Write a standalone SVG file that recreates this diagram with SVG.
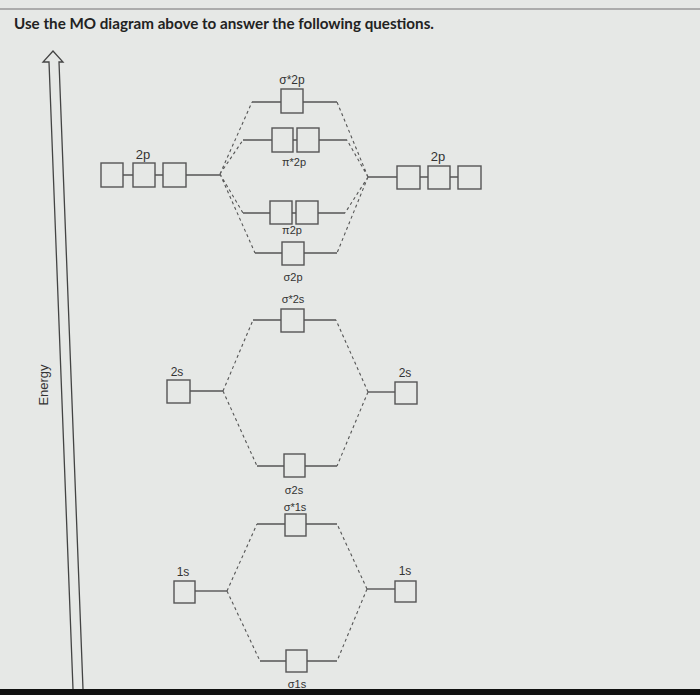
<svg xmlns="http://www.w3.org/2000/svg" width="700" height="695" viewBox="0 0 700 695">
<style>
.t{font-family:"Liberation Sans",Arial,sans-serif;fill:#333;}
.lbl{font-size:12px;text-anchor:middle;}
.box{fill:#e6e8e6;stroke:#555;stroke-width:1.4;}
.ln{stroke:#555;stroke-width:1.4;}
.d{stroke:#555;stroke-width:1.1;stroke-dasharray:3,3;fill:none;}
</style>
<rect width="700" height="695" fill="#e6e8e6"/>
<line x1="0" y1="9" x2="700" y2="9" stroke="#999" stroke-width="1.5"/>
<text x="14" y="29" class="t" style="font-family:Lato,'Liberation Sans',sans-serif;font-size:15.2px;font-weight:bold;fill:#222">Use the MO diagram above to answer the following questions.</text>
<g id="energy-axis" fill="none" stroke="#444" stroke-width="1.3">
<polyline points="73,689 49,62 43,62 53,51 63,62 59,62 83,689"/>
</g>
<text class="t" transform="translate(48,385) rotate(-90)" style="font-size:13px;text-anchor:middle">Energy</text>
<g id="connectors">
<path class="d" d="M220,174 L252,102 M220,174 L243,140 M220,174 L243,213 M220,174 L255,253"/>
<path class="d" d="M368,177 L337,102 M368,177 L347,140 M368,177 L345,213 M368,177 L337,253"/>
<path class="d" d="M223,391 L253,320 M223,391 L257,466 M368,392 L336,320 M368,392 L337,466"/>
<path class="d" d="M227,591 L257,524 M227,591 L260,661 M367,589 L337,524 M367,589 L337,661"/>
</g>
<g id="left-2p"><line class="ln" x1="123" y1="175" x2="220" y2="175"/><rect class="box" x="101" y="163" width="22" height="24"/><rect class="box" x="133" y="163" width="22" height="24"/><rect class="box" x="163" y="163" width="23" height="24"/><text class="t lbl" x="143" y="159" style="font-size:13px">2p</text></g>
<g id="right-2p"><line class="ln" x1="368" y1="177" x2="458" y2="177"/><rect class="box" x="397" y="166" width="23" height="23"/><rect class="box" x="428" y="166" width="22" height="23"/><rect class="box" x="458" y="166" width="23" height="23"/><text class="t lbl" x="438" y="161" style="font-size:13px">2p</text></g>
<g id="sigma-star-2p"><line class="ln" x1="252" y1="102" x2="337" y2="102"/><rect class="box" x="281" y="89" width="22" height="24"/><text class="t lbl" x="292" y="84">σ*2p</text></g>
<g id="pi-star-2p"><line class="ln" x1="243" y1="140" x2="347" y2="140"/><rect class="box" x="272" y="128" width="21" height="24"/><rect class="box" x="297" y="128" width="22" height="24"/><text class="t lbl" x="294" y="166" style="font-size:11px">π*2p</text></g>
<g id="pi-2p"><line class="ln" x1="243" y1="213" x2="345" y2="213"/><rect class="box" x="270" y="201" width="22" height="23"/><rect class="box" x="296" y="201" width="22" height="23"/><text class="t lbl" x="292" y="234" style="font-size:11px">π2p</text></g>
<g id="sigma-2p"><line class="ln" x1="255" y1="253" x2="337" y2="253"/><rect class="box" x="282" y="242" width="22" height="23"/><text class="t lbl" x="293" y="281" style="font-size:11px">σ2p</text></g>
<g id="sigma-star-2s"><line class="ln" x1="253" y1="320" x2="336" y2="320"/><rect class="box" x="281" y="309" width="23" height="23"/><text class="t lbl" x="293" y="303" style="font-size:11px">σ*2s</text></g>
<g id="left-2s"><line class="ln" x1="190" y1="391" x2="223" y2="391"/><rect class="box" x="167" y="380" width="23" height="23"/><text class="t lbl" x="177" y="376">2s</text></g>
<g id="right-2s"><line class="ln" x1="368" y1="392" x2="395" y2="392"/><rect class="box" x="395" y="382" width="22" height="22"/><text class="t lbl" x="405" y="377">2s</text></g>
<g id="sigma-2s"><line class="ln" x1="257" y1="466" x2="337" y2="466"/><rect class="box" x="284" y="454" width="21" height="23"/><text class="t lbl" x="294" y="494" style="font-size:11px">σ2s</text></g>
<g id="sigma-star-1s"><line class="ln" x1="257" y1="524" x2="337" y2="524"/><rect class="box" x="285" y="514" width="21" height="22"/><text class="t lbl" x="295" y="511" style="font-size:11px">σ*1s</text></g>
<g id="left-1s"><line class="ln" x1="195" y1="591" x2="227" y2="591"/><rect class="box" x="174" y="581" width="21" height="22"/><text class="t lbl" x="183" y="576">1s</text></g>
<g id="right-1s"><line class="ln" x1="367" y1="589" x2="395" y2="589"/><rect class="box" x="395" y="581" width="21" height="21"/><text class="t lbl" x="405" y="575">1s</text></g>
<g id="sigma-1s"><line class="ln" x1="260" y1="661" x2="337" y2="661"/><rect class="box" x="286" y="650" width="21" height="22"/><text class="t lbl" x="297" y="688" style="font-size:11px">σ1s</text></g>
<rect x="0" y="689" width="700" height="6" fill="#111"/>
</svg>
